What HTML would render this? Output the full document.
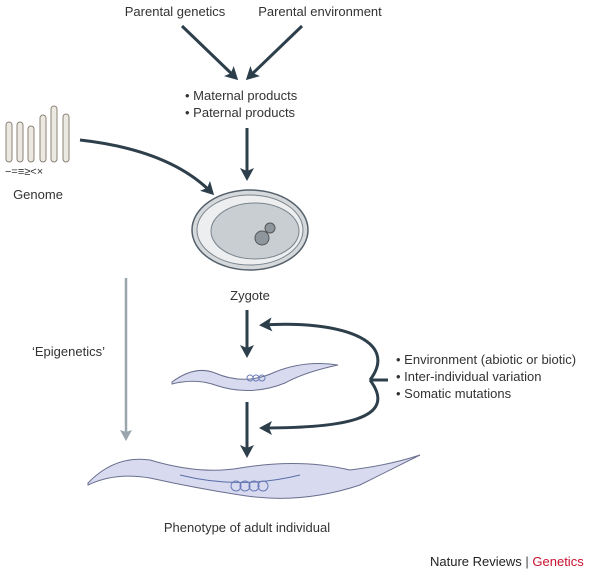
<!DOCTYPE html>
<html><head><style>
body{margin:0;background:#fff;}
svg{display:block;font-family:"Liberation Sans",sans-serif;}
</style></head><body>
<svg width="600" height="575" viewBox="0 0 600 575" xmlns="http://www.w3.org/2000/svg">
<defs>
<marker id="a" markerWidth="14" markerHeight="14" refX="10" refY="7" orient="auto" markerUnits="userSpaceOnUse"><path d="M0,0 L13,7 L0,14 L3,7 Z" fill="#2e3f4c"/></marker>
<marker id="g" markerWidth="12" markerHeight="12" refX="8" refY="6" orient="auto" markerUnits="userSpaceOnUse"><path d="M0,0 L11,6 L0,12 L2,6 Z" fill="#9aa6ae"/></marker>
</defs>
<g font-size="13" fill="#333">
<text x="175" y="16" text-anchor="middle">Parental genetics</text>
<text x="320" y="16" text-anchor="middle">Parental environment</text>
<text x="185" y="100">• Maternal products</text>
<text x="185" y="117">• Paternal products</text>
<text x="38" y="199" text-anchor="middle">Genome</text>
<text x="250" y="300" text-anchor="middle">Zygote</text>
<text x="32" y="356">‘Epigenetics’</text>
<text x="396" y="364">• Environment (abiotic or biotic)</text>
<text x="396" y="381">• Inter-individual variation</text>
<text x="396" y="398">• Somatic mutations</text>
<text x="247" y="532" text-anchor="middle">Phenotype of adult individual</text>
<text x="430" y="566" font-size="13" fill="#222">Nature Reviews <tspan fill="#444">|</tspan> <tspan fill="#c8102e">Genetics</tspan></text>
</g>
<g stroke="#2e3f4c" stroke-width="3" fill="none" marker-end="url(#a)">
<path d="M182,26 L236,78"/>
<path d="M302,26 L248,78"/>
<path d="M247,128 L247,178"/>
<path d="M80,140 Q170,150 212,193"/>
<path d="M247,310 L247,355"/>
<path d="M247,402 L247,455"/>
<path d="M370,380 C400,340 340,320 262,325"/>
<path d="M370,380 C400,420 340,428 262,428"/>
</g>
<path d="M370,380 L388,380" stroke="#2e3f4c" stroke-width="3"/>
<path d="M126,278 L126,438" stroke="#9aa6ae" stroke-width="2.5" marker-end="url(#g)"/>
<g fill="#ece8e2" stroke="#8b8276" stroke-width="1">
<rect x="6" y="122" width="6" height="40" rx="3"/>
<rect x="17" y="122" width="6" height="40" rx="3"/>
<rect x="28" y="126" width="6" height="36" rx="3"/>
<rect x="40" y="115" width="6" height="47" rx="3"/>
<rect x="51" y="106" width="6" height="56" rx="3"/>
<rect x="63" y="114" width="6" height="48" rx="3"/>
</g>
<text x="5" y="175" font-size="11" fill="#333">−=≡≥&lt;×</text>
<ellipse cx="250" cy="230" rx="58" ry="40" fill="#d5d9dc" stroke="#55606a" stroke-width="1.5"/>
<ellipse cx="250" cy="230" rx="53" ry="35" fill="#eceeef" stroke="#7a848c"/>
<ellipse cx="255" cy="231" rx="44" ry="28" fill="#c9ced2" stroke="#7a848c"/>
<circle cx="270" cy="228" r="5" fill="#8f979e" stroke="#555"/>
<circle cx="262" cy="238" r="7" fill="#8f979e" stroke="#555"/>
<path d="M172,382 Q195,365 215,373 Q245,386 275,372 Q305,360 338,365 Q305,372 285,383 Q250,397 215,385 Q195,378 172,384 Z" fill="#d8dbef" stroke="#6a6f8f"/>
<circle cx="250" cy="378" r="3" fill="none" stroke="#6a7ab8"/><circle cx="256" cy="378" r="3" fill="none" stroke="#6a7ab8"/><circle cx="262" cy="378" r="3" fill="none" stroke="#6a7ab8"/>
<path d="M88,483 Q115,455 150,460 Q200,475 240,468 Q300,458 350,470 Q390,465 420,455 Q390,470 360,485 Q300,505 240,495 Q195,488 150,478 Q115,472 88,485 Z" fill="#d8dbef" stroke="#6a6f8f"/>
<path d="M180,475 Q240,490 300,475" fill="none" stroke="#5a6fa8"/>
<g fill="none" stroke="#6a7ab8"><circle cx="236" cy="486" r="5"/><circle cx="245" cy="486" r="5"/><circle cx="254" cy="486" r="5"/><circle cx="263" cy="486" r="5"/></g>
</svg>
</body></html>
